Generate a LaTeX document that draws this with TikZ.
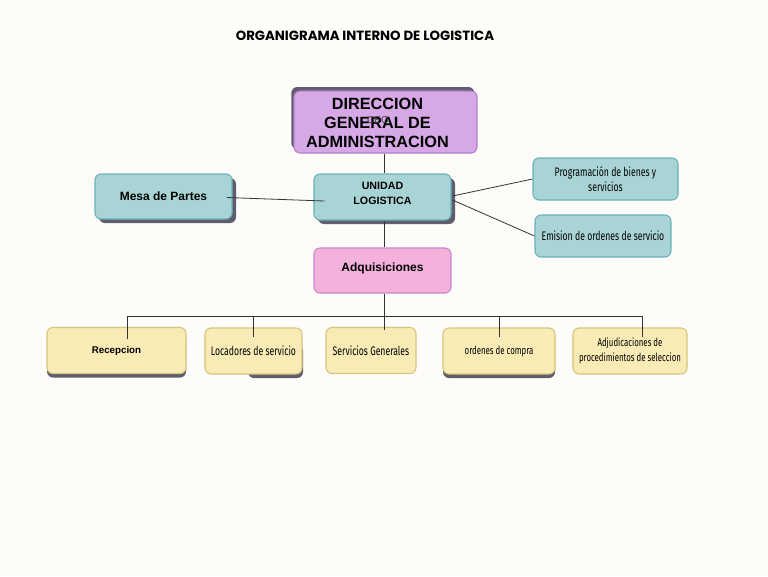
\documentclass[tikz,border=0pt]{standalone}
\usepackage{fontspec}
\setmainfont{Liberation Sans}
\newfontfamily\titlefont{Poppins}
\newfontfamily\condfont[FakeStretch=0.7]{Fira Sans}
\usetikzlibrary{shadows,calc}
\definecolor{paper}{HTML}{FDFCF8}
\definecolor{tealfill}{HTML}{A9D4D6}
\definecolor{tealline}{HTML}{69B2B8}
\definecolor{lilafill}{HTML}{D6A8E6}
\definecolor{lilaline}{HTML}{B37CCB}
\definecolor{pinkfill}{HTML}{F3B1DC}
\definecolor{pinkline}{HTML}{C788C9}
\definecolor{yelfill}{HTML}{F8EBB5}
\definecolor{yelline}{HTML}{D5C57A}
\definecolor{shadowgray}{HTML}{5E5E6E}
\begin{document}
\begin{tikzpicture}[x=0.75pt,y=-0.75pt,
  box/.style={draw, rounded corners=4.5pt, align=center, inner sep=2pt, line width=0.8pt},
  tealbox/.style={box, fill=tealfill, draw=tealline},
  yelbox/.style={box, fill=yelfill, draw=yelline, minimum height=34.5pt, font=\condfont\fontsize{9.3}{11.25}\selectfont},
  shadowdr/.style={drop shadow={shadow xshift=3pt, shadow yshift=-3pt, fill=shadowgray, opacity=1}},
  shadowdn/.style={drop shadow={shadow xshift=0pt, shadow yshift=-3pt, fill=shadowgray, opacity=1}},
  shadowul/.style={drop shadow={shadow xshift=-2pt, shadow yshift=3pt, fill=shadowgray, opacity=1}},
  conn/.style={draw=black!80, line width=0.6pt}
]
\fill[paper] (0,0) rectangle (768,576);
\useasboundingbox (0,0) rectangle (768,576);
\node[font=\titlefont\bfseries\fontsize{10}{12}\selectfont] (title) at (365,36) {ORGANIGRAMA INTERNO DE LOGISTICA};
\node[box, shadowul, inner ysep=0pt, fill=lilafill, draw=lilaline, minimum width=137.25pt, minimum height=46.5pt, font=\bfseries\fontsize{12.2}{14}\selectfont] (dir) at (385.5,122) {\raisebox{0pt}[\dimexpr\height+4pt][\depth]{\begin{tabular}{@{}c@{}}DIRECCION\\GENERAL DE\\ADMINISTRACION\end{tabular}}\hspace*{12pt}};
\node[font=\fontsize{7.5}{8}\selectfont, text=black!75] (ceo) at (378,120) {CEO};
\node[tealbox, shadowdr, minimum width=102.75pt, minimum height=34.5pt, font=\bfseries\fontsize{8}{11}\selectfont] (uni) at (382.5,197) {\raisebox{0pt}[\height][\dimexpr\depth+4.5pt]{\begin{tabular}{@{}c@{}}UNIDAD\\LOGISTICA\end{tabular}}};
\node[tealbox, shadowdr, minimum width=102.75pt, minimum height=33.75pt, font=\bfseries\fontsize{9}{10}\selectfont] (mesa) at (163.5,196.5) {Mesa de Partes};
\node[tealbox, minimum width=108.75pt, minimum height=31.5pt, font=\condfont\fontsize{9.3}{11.25}\selectfont] (prog) at (605.5,179) {Programación de bienes y\\servicios};
\node[tealbox, minimum width=102pt, minimum height=31.5pt, font=\condfont\fontsize{9.3}{11.25}\selectfont] (emi) at (603,236) {Emision de ordenes de servicio};
\node[box, fill=pinkfill, draw=pinkline, minimum width=102.75pt, minimum height=33.75pt, font=\bfseries\fontsize{9}{10}\selectfont] (adq) at (382.5,270.5) {\raisebox{0pt}[\height][\dimexpr\depth+2.5pt]{Adquisiciones}};
\fill[shadowgray, rounded corners=4.5pt] (248,345) rectangle (303,378);
\node[yelbox, shadowdn, minimum width=104.25pt, font=\bfseries\fontsize{7.3}{9}\selectfont] (rec) at (116.5,350.5) {Recepcion};
\node[yelbox, minimum width=72.75pt] (loc) at (253.5,351) {Locadores de servicio};
\node[yelbox, minimum width=67.5pt] (srv) at (371,350.5) {Servicios Generales};
\node[yelbox, shadowdn, minimum width=84pt, font=\condfont\fontsize{8.4}{10}\selectfont] (ord) at (499,351) {ordenes de compra};
\node[yelbox, minimum width=85.5pt, font=\condfont\fontsize{8.4}{11.25}\selectfont] (adj) at (630,351) {Adjudicaciones de\\procedimientos de seleccion};
\coordinate (bus) at (384,316);
\draw[conn] (dir.south -| bus) -- (uni.north -| bus);
\draw[conn] (uni.south -| bus) -- (adq.north -| bus);
\draw[conn] (adq.south -| bus) -- (bus);
\draw[conn] ($(mesa.east)+(-6,1)$) -- ($(uni.west)+(11,4)$);
\draw[conn] ($(uni.east)+(1,-1)$) -- (prog.west);
\draw[conn] ($(uni.east)+(1,3)$) -- (emi.west);
\draw[conn] (bus) -| ($(rec.north)+(10.5,12)$);
\draw[conn] (bus) -| ($(loc.north)+(0,10)$);
\draw[conn] (bus) -- ($(srv.north)+(13,3)$);
\draw[conn] (bus) -| ($(ord.north)+(0,10)$);
\draw[conn] (bus) -| ($(adj.north)+(12,10)$);
\end{tikzpicture}
\end{document}
